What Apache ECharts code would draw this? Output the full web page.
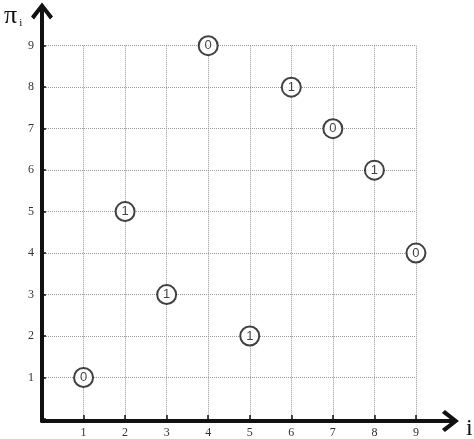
<!DOCTYPE html>
<html><head><meta charset="utf-8">
<script src="https://cdn.jsdelivr.net/npm/echarts@6/dist/echarts.min.js"></script>
<style>html,body{margin:0;padding:0;background:#fff}#c{width:474px;height:439px}</style>
</head><body><div id="c"></div>
<script>
const xs = [1, 2, 3, 4, 5, 6, 7, 8, 9];
const ys = [1, 5, 3, 9, 2, 8, 7, 6, 4];
const bits = ['0', '1', '1', '0', '1', '1', '0', '1', '0'];
const tickValues = [1, 2, 3, 4, 5, 6, 7, 8, 9];

const ux = 41.55, uy = 41.7, x0 = 42, y0 = 421;
const W = 474, H = 439;
const axisMax = 9.83;
const data = xs.map((x, i) => ({ value: [x, ys[i]], bit: bits[i] }));
const chev = 'path://M0,14 L11,0 L22,14 L19,17 L11,6.5 L3,17 Z M9,5 L13,5 L13,17 L9,17 Z';
const labelFont = { fontFamily: 'Liberation Serif', fontSize: 12, color: '#333' };

const chart = echarts.init(document.getElementById('c'), null, { renderer: 'canvas' });
chart.setOption({
  animation: false,
  backgroundColor: '#fff',
  grid: [
    { left: x0, bottom: H - y0, width: 9 * ux, height: 9 * uy },
    { left: x0, bottom: H - y0, width: axisMax * ux, height: axisMax * uy }
  ],
  xAxis: [
    { gridIndex: 0, type: 'value', min: 0, max: 9, interval: 1,
      axisLine: { show: false },
      axisTick: { show: true, inside: true, length: 4, lineStyle: { color: '#111', width: 1.5 } },
      axisLabel: { show: true, margin: 8, ...labelFont, formatter: v => tickValues.includes(v) ? String(v) : '' },
      splitLine: { show: true, lineStyle: { type: 'dotted', color: '#999', width: 1 } } },
    { gridIndex: 1, type: 'value', min: 0, max: axisMax,
      axisLine: { show: true, symbol: ['none', chev], symbolSize: [22, 17], symbolOffset: [0, 0], lineStyle: { color: '#111', width: 4 } },
      axisTick: { show: false }, axisLabel: { show: false }, splitLine: { show: false } }
  ],
  yAxis: [
    { gridIndex: 0, type: 'value', min: 0, max: 9, interval: 1,
      axisLine: { show: false },
      axisTick: { show: true, inside: true, length: 4, lineStyle: { color: '#111', width: 1.5 } },
      axisLabel: { show: true, margin: 8, ...labelFont, formatter: v => tickValues.includes(v) ? String(v) : '' },
      splitLine: { show: true, lineStyle: { type: 'dotted', color: '#999', width: 1 } } },
    { gridIndex: 1, type: 'value', min: 0, max: axisMax,
      axisLine: { show: true, symbol: ['none', chev], symbolSize: [22, 17], symbolOffset: [0, 0], lineStyle: { color: '#111', width: 4 } },
      axisTick: { show: false }, axisLabel: { show: false }, splitLine: { show: false } }
  ],
  graphic: [
    { type: 'text', left: 4, top: 3, style: { rich: {
        p: { fontFamily: 'Liberation Serif', fontSize: 26, fill: '#111' },
        s: { fontFamily: 'Liberation Serif', fontSize: 11, fill: '#111', padding: [14, 0, 0, 2] } },
        text: '{p|π}{s|i}' } },
    { type: 'text', left: 466, top: 417, style: { text: 'i', fontFamily: 'Liberation Serif', fontSize: 24, fill: '#111' } }
  ],
  series: [{
    type: 'scatter', xAxisIndex: 0, yAxisIndex: 0, data: data,
    symbol: 'circle', symbolSize: 19,
    itemStyle: { color: '#fff', borderColor: '#111', borderWidth: 2 },
    label: { show: true, position: 'inside', formatter: p => p.data.bit,
      fontFamily: 'Liberation Sans', fontSize: 13, color: '#111' },
    z: 5
  }]
});
</script></body></html>
